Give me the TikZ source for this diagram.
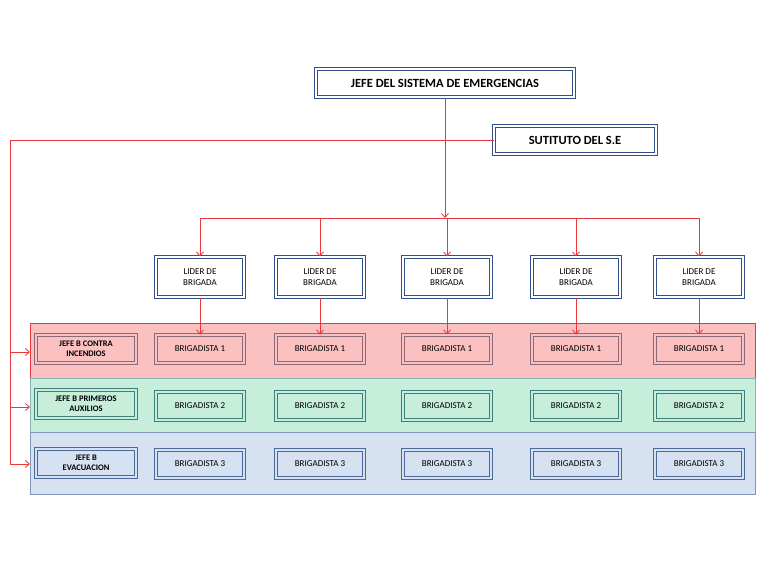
\documentclass[tikz,border=0pt]{standalone}
\usepackage{fontspec}
\setmainfont{Carlito}
\usetikzlibrary{arrows.meta}
\definecolor{bx}{HTML}{2F4F8F}
\definecolor{rl}{HTML}{E8383C}
\definecolor{rf}{HTML}{FBC0C0}
\definecolor{gf}{HTML}{C6EEDB}
\definecolor{bf}{HTML}{D6E1F2}
\definecolor{rb}{HTML}{8A6A78}
\definecolor{gb}{HTML}{3C8080}
\definecolor{bb}{HTML}{4A6A9A}
\begin{document}
\begin{tikzpicture}[x=1pt,y=-1pt,
 box/.style={line width=1pt,double distance=2pt,inner sep=0pt,align=center,text=black,font=\fontsize{9}{11.5}\selectfont},
 ldr/.style={box,draw=bx,double=white,fill=white,minimum width=88pt,minimum height=40pt},
 brg/.style 2 args={box,draw=#1,double=#2,fill=#2,minimum width=88pt,minimum height=28pt},
 jef/.style 2 args={box,draw=#1,double=#2,fill=#2,minimum width=100pt,minimum height=28pt,font=\bfseries\fontsize{8.5}{10}\selectfont},
 ln/.style={draw=rl,line width=0.8pt},
 ar/.style={ln,-{Straight Barb[length=4pt,width=7pt]}}]
\useasboundingbox (0,0) rectangle (768,576);
\fill[rf] (30,323) rectangle (755,378);
\fill[gf] (30,378) rectangle (755,432);
\fill[bf] (30,432) rectangle (755,494);
\draw[rl,line width=0.8pt] (30,323) rectangle (755,378);
\draw[gb!60,line width=0.6pt] (30,378) rectangle (755,432);
\draw[bb!70,line width=0.6pt] (30,432) rectangle (755,494);
\node[box,draw=bx,double=white,fill=white,minimum width=258pt,minimum height=28pt,font=\bfseries\fontsize{12.5}{14}\selectfont] (top) at (445,83) {JEFE DEL SISTEMA DE EMERGENCIAS};
\node[box,draw=bx,double=white,fill=white,minimum width=162pt,minimum height=28pt,font=\bfseries\fontsize{12.5}{14}\selectfont] (sub) at (575,140) {SUTITUTO DEL S.E};
\coordinate (hub) at (445,218);
\coordinate (cl) at (10,140);
\draw[ar] (top) -- (hub);
\draw[ln] (sub) -- (cl) -- (10,464);
\draw[ln] (200,218) -- (699,218);
\foreach \x/\n in {200/1,320/2,447/3,576/4,699/5}{
 \node[ldr] (l\n) at (\x,277) {LIDER DE\\BRIGADA};
 \draw[ar] (\x,218) -- (l\n.north);
 \node[brg={rb}{rf}] (a\n) at (\x,349) {BRIGADISTA 1};
 \node[brg={gb}{gf}] (b\n) at (\x,406) {BRIGADISTA 2};
 \node[brg={bb}{bf}] (c\n) at (\x,464) {BRIGADISTA 3};
 \draw[ar] (l\n) -- (a\n);
}
\node[jef={rb}{rf}] (j1) at (86,349) {JEFE B CONTRA\\INCENDIOS};
\node[jef={gb}{gf}] (j2) at (86,404) {JEFE B PRIMEROS\\AUXILIOS};
\node[jef={bb}{bf}] (j3) at (86,463) {JEFE B\\EVACUACION};
\draw[ar] (10,352) -- (30,352);
\draw[ar] (10,407) -- (30,407);
\draw[ar] (10,464) -- (30,464);
\end{tikzpicture}
\end{document}
